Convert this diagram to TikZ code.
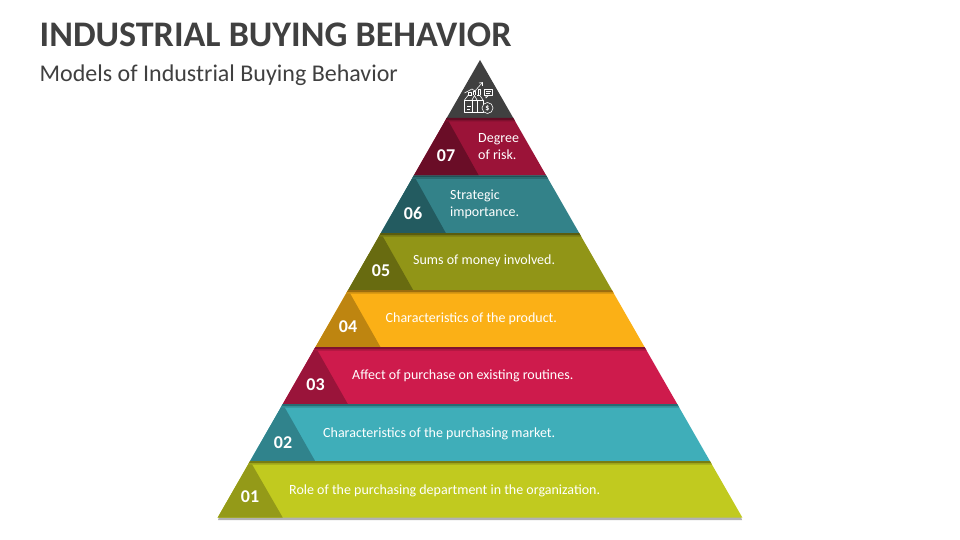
\documentclass[tikz,border=0pt]{standalone}
\usepackage{fontspec}
\setmainfont{Carlito}
\usetikzlibrary{calc}
\definecolor{c1}{HTML}{C1CA1F}\definecolor{d1}{HTML}{949A18}
\definecolor{c2}{HTML}{3FAEB9}\definecolor{d2}{HTML}{30838C}
\definecolor{c3}{HTML}{CE1B4C}\definecolor{d3}{HTML}{9A143A}
\definecolor{c4}{HTML}{FBB016}\definecolor{d4}{HTML}{BE8510}
\definecolor{c5}{HTML}{919517}\definecolor{d5}{HTML}{686B10}
\definecolor{c6}{HTML}{338289}\definecolor{d6}{HTML}{235B60}
\definecolor{c7}{HTML}{9B1338}\definecolor{d7}{HTML}{6A0D27}
\definecolor{capc}{HTML}{404040}
\tikzset{
 x=1pt,y=-1pt,
 lbl/.style={text=white,font=\fontsize{14}{17}\selectfont,inner sep=0pt,align=left,anchor=west},
 num/.style={text=white,font=\fontsize{18}{20}\selectfont\bfseries,inner sep=0pt},
 ico/.style={draw=white,line width=0.6pt,fill=none,line join=round},
}
\newcommand{\layer}[4]{% top y, bottom y, main, dark
 \pgfmathsetmacro{\xa}{480-0.5733*(#1-60)}
 \pgfmathsetmacro{\xb}{480-0.5733*(#2-60)}
 \pgfmathsetmacro{\xc}{960-\xa}
 \pgfmathsetmacro{\xd}{960-\xb}
 \pgfmathsetmacro{\xe}{\xb+65}
 \fill[#3] (\xa,#1) -- (\xc,#1) -- (\xd,#2) -- (\xb,#2) -- cycle;
 \fill[#4] (\xa,#1) -- (\xe,#2) -- (\xb,#2) -- cycle;
}
\begin{document}
\begin{tikzpicture}
\useasboundingbox (0,0) rectangle (960,540);
\fill[white] (0,0) rectangle (960,540);
\fill[black!30] (219,517) -- (741,517) -- (742,520) -- (218,520) -- cycle;
\layer{461}{517.5}{c1}{d1}
\layer{404}{461}{c2}{d2}
\layer{347}{404}{c3}{d3}
\layer{290}{347}{c4}{d4}
\layer{233}{290}{c5}{d5}
\layer{175.5}{233}{c6}{d6}
\layer{118}{175.5}{c7}{d7}
\fill[capc] (480,60) -- (513.3,118) -- (446.7,118) -- cycle;
% shadow bands at the top of each layer
\foreach \y/\col in {461/c1,404/c2,347/c3,290/c4,233/c5,175.5/c6,118/c7}{
 \pgfmathsetmacro{\xa}{480-0.5733*(\y-60)}
 \pgfmathsetmacro{\xc}{960-\xa}
 \fill[\col!62!black] (\xa,\y) -- (\xc,\y) -- ({\xc+1.2},{\y+2}) -- ({\xa-1.2},{\y+2}) -- cycle;
 \fill[\col!82!black] ({\xa-1.2},{\y+2}) -- ({\xc+1.2},{\y+2}) -- ({\xc+2},{\y+3.5}) -- ({\xa-2},{\y+3.5}) -- cycle;
}
\node[anchor=west,inner sep=0pt,text=capc,font=\fontsize{36}{40}\selectfont\bfseries] (title) at (39.5,34.8) {INDUSTRIAL BUYING BEHAVIOR};
\node[anchor=west,inner sep=0pt,text=capc,font=\fontsize{24}{28}\selectfont] (sub) at (39.5,75.2) {Models of Industrial Buying Behavior};
\node[num] (n1) at (250,497) {01};
\node[num] (n2) at (283,442.5) {02};
\node[num] (n3) at (315.5,385) {03};
\node[num] (n4) at (348,327) {04};
\node[num] (n5) at (381,271) {05};
\node[num] (n6) at (413,213.5) {06};
\node[num] (n7) at (446,156) {07};
\node[lbl] (t1) at (289,490.5) {Role of the purchasing department in the organization.};
\node[lbl] (t2) at (323,433.5) {Characteristics of the purchasing market.};
\node[lbl] (t3) at (352,375.5) {Affect of purchase on existing routines.};
\node[lbl] (t4) at (385.5,318.5) {Characteristics of the product.};
\node[lbl] (t5) at (413,261) {Sums of money involved.};
\node[lbl] (t6) at (450,204) {Strategic\\importance.};
\node[lbl] (t7) at (478,147) {Degree\\of risk.};
% icon: box with chart
\draw[ico] (464.5,100) rectangle (483,112);
\draw[ico] (464.5,100) -- (468,95.5) -- (472,95.5);
\draw[ico] (483,100) -- (480,95.5) -- (477,95.5);
\draw[ico] (472,100) -- (474.5,95.5) -- (477,100);
\draw[ico] (472,100) -- (472,112) (477,100) -- (477,112);
\draw[ico] (467,106.5) -- (470.5,106.5) (467,109) -- (469.5,109);
\draw[ico] (464.5,93) -- (472,89) -- (475,91) -- (482,83);
\draw[ico] (479,83) -- (482.5,82.5) -- (482.5,86);
\draw[ico] (468.5,95.5) -- (468.5,92.5) -- (471,92.5) -- (471,95.5);
\draw[ico] (473,95.5) -- (473,91.5) -- (475.5,91.5) -- (475.5,95.5);
\draw[ico] (478,95.5) -- (478,89) -- (480.5,89) -- (480.5,95.5);
\draw[ico] (484.5,89) rectangle (492.5,95.5);
\draw[ico] (486,95.5) -- (486,98) -- (488.5,95.5);
\draw[ico] (486,91.2) -- (491,91.2);
\draw[ico] (486,93.3) -- (490,93.3);
\draw[ico,fill=capc] (487.5,108) circle (5.5);
\node[text=white,inner sep=0pt,font=\fontsize{8}{9}\selectfont\bfseries] (dollar) at (487.5,108) {\$};
\end{tikzpicture}
\end{document}
